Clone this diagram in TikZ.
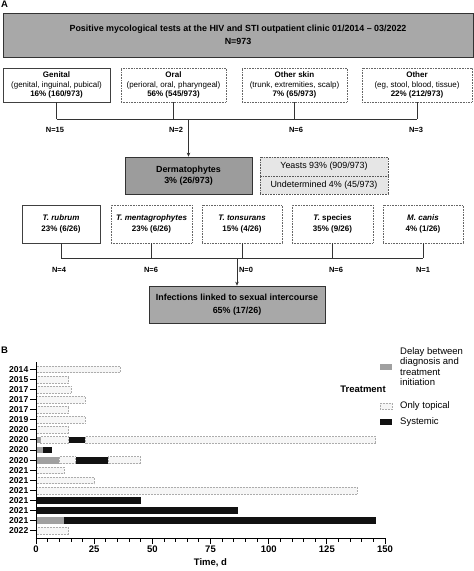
\documentclass[tikz,border=0pt]{standalone}
\usepackage{fontspec}
\setmainfont{Liberation Sans}
\usetikzlibrary{arrows.meta}
\definecolor{boxgray}{HTML}{A8A8A8}
\definecolor{dermgray}{HTML}{9C9C9C}
\definecolor{lightbox}{HTML}{E6E6E6}
\definecolor{delaygray}{HTML}{A0A0A0}
\definecolor{sysblack}{HTML}{111111}
\newcommand\fsA{\fontsize{8.9}{10.5}\selectfont}
\newcommand\fsB{\fontsize{8.0}{9.6}\selectfont}
\newcommand\fsN{\fontsize{7.5}{9}\selectfont}
\newcommand\fsC{\fontsize{8.6}{10}\selectfont}
\newcommand\fsD{\fontsize{9.5}{10.3}\selectfont}
\newcommand\yr[1]{369.3+10.09*#1}
\newcommand\barseg[4]{\path[#1] ({36+2.327*#2},{369.3+10.09*#4-3.4}) rectangle ({36+2.327*#3},{369.3+10.09*#4+3.4});}
\begin{document}
\begin{tikzpicture}[x=1pt,y=-1pt,
  bigbox/.style={draw=black!80, line width=0.7pt, fill=boxgray, align=center, inner sep=1pt, font=\fsA},
  solidbox/.style={draw=black!75, line width=0.6pt, fill=white, align=center, inner sep=1pt, font=\fsB},
  dotbox/.style={draw=black!60, line width=0.6pt, densely dotted, fill=white, align=center, inner sep=1pt, font=\fsB},
  lightdot/.style={draw=black!65, line width=0.6pt, densely dotted, fill=lightbox, align=center, inner sep=1pt, font=\fsA},
  conn/.style={draw=black!80, line width=0.7pt},
  arr/.style={conn, -{Stealth[length=4pt,width=3.5pt]}},
  nlab/.style={font=\fsN\bfseries, inner sep=0pt},
  topical/.style={fill=gray!7, draw=gray!65, densely dotted, line width=0.5pt},
  delay/.style={fill=delaygray},
  systemic/.style={fill=sysblack},
  ylab/.style={font=\fsC\bfseries, anchor=east, inner sep=0pt},
  leg/.style={font=\fsD, anchor=west, inner sep=0pt, align=left}
]
\useasboundingbox[fill=white] (0,0) rectangle (474,571);

% ---------- Panel A ----------
\node[font=\fontsize{9.5}{10}\selectfont\bfseries, anchor=north west, inner sep=0pt] (labA) at (1,1) {A};

\node[bigbox, minimum width=470pt, minimum height=44pt] (top) at (238,35)
  {\textbf{Positive mycological tests at the HIV and STI outpatient clinic 01/2014 – 03/2022}\\[2pt]\textbf{N=973}};

\node[solidbox, minimum width=107pt, minimum height=34pt] (b1) at (56.5,85)
  {\textbf{Genital}\\(genital, inguinal, pubical)\\\textbf{16\% (160/973)}};
\node[dotbox, minimum width=105pt, minimum height=34pt] (b2) at (173.5,85)
  {\textbf{Oral}\\(perioral, oral, pharyngeal)\\\textbf{56\% (545/973)}};
\node[dotbox, minimum width=105pt, minimum height=34pt] (b3) at (294.5,85)
  {\textbf{Other skin}\\(trunk, extremities, scalp)\\\textbf{7\% (65/973)}};
\node[dotbox, minimum width=110pt, minimum height=34pt] (b4) at (417,85)
  {\textbf{Other}\\(eg, stool, blood, tissue)\\\textbf{22\% (212/973)}};

\coordinate (h1) at (56,119);
\coordinate (h4) at (417,119);
\coordinate (hd) at (188.5,119);
\draw[conn] (b1.south) -- (b1.south |- h1);
\draw[conn] (b2.south) -- (b2.south |- h1);
\draw[conn] (b3.south) -- (b3.south |- h1);
\draw[conn] (b4.south) -- (b4.south |- h1);
\draw[conn] (b1.south |- h1) -- (b4.south |- h4);

\node[nlab] (n1) at (55,130) {N=15};
\node[nlab] (n2) at (176,130) {N=2};
\node[nlab] (n3) at (296,130) {N=6};
\node[nlab] (n4) at (416,130) {N=3};

\node[bigbox, fill=dermgray, minimum width=127pt, minimum height=37pt] (derm) at (188.5,175.5)
  {\textbf{Dermatophytes}\\[1pt]\textbf{3\% (26/973)}};
\draw[arr] (hd) -- (derm.north);

\node[lightdot, minimum width=128pt, minimum height=19pt] (yeast) at (324,166.5) {Yeasts 93\% (909/973)};
\node[lightdot, minimum width=128pt, minimum height=18pt] (undet) at (324,185) {Undetermined 4\% (45/973)};

\node[solidbox, minimum width=78pt, minimum height=38pt] (c1) at (61,224)
  {\textbf{\textit{T. rubrum}}\\[2pt]\textbf{23\% (6/26)}};
\node[dotbox, minimum width=81pt, minimum height=38pt] (c2) at (151.5,224)
  {\textbf{\textit{T. mentagrophytes}}\\[2pt]\textbf{23\% (6/26)}};
\node[dotbox, minimum width=80pt, minimum height=38pt] (c3) at (242,224)
  {\textbf{\textit{T. tonsurans}}\\[2pt]\textbf{15\% (4/26)}};
\node[dotbox, minimum width=81pt, minimum height=38pt] (c4) at (332.5,224)
  {\textbf{\textit{T.} species}\\[2pt]\textbf{35\% (9/26)}};
\node[dotbox, minimum width=80pt, minimum height=38pt] (c5) at (423,224)
  {\textbf{\textit{M. canis}}\\[2pt]\textbf{4\% (1/26)}};

\coordinate (g1) at (61,258);
\coordinate (g5) at (423,258);
\coordinate (gi) at (237,258);
\foreach \c in {c1,c2,c3,c4,c5}{\draw[conn] (\c.south) -- (\c.south |- g1);}
\draw[conn] (g1) -- (g5);

\node[nlab] (m1) at (59,270) {N=4};
\node[nlab] (m2) at (151,270) {N=6};
\node[nlab] (m3) at (246,270) {N=0};
\node[nlab] (m4) at (336,270) {N=6};
\node[nlab] (m5) at (423,270) {N=1};

\node[bigbox, minimum width=176pt, minimum height=37pt] (inf) at (237,304.5)
  {\textbf{Infections linked to sexual intercourse}\\[2pt]\textbf{65\% (17/26)}};
\draw[arr] (gi) -- (inf.north);

% ---------- Panel B ----------
\node[font=\fontsize{9.5}{10}\selectfont\bfseries, anchor=west, inner sep=0pt] (labB) at (1,350) {B};

% bars
\barseg{topical}{0}{36}{0}
\barseg{topical}{0}{14}{1}
\barseg{topical}{0}{15}{2}
\barseg{topical}{0}{21}{3}
\barseg{topical}{0}{14}{4}
\barseg{topical}{0}{21}{5}
\barseg{topical}{0}{14}{6}
\barseg{delay}{0}{2}{7}
\barseg{topical}{2}{14}{7}
\barseg{systemic}{14}{21}{7}
\barseg{topical}{21}{146}{7}
\barseg{delay}{0}{3}{8}
\barseg{systemic}{3}{7}{8}
\barseg{delay}{0}{10}{9}
\barseg{topical}{10}{17}{9}
\barseg{systemic}{17}{31}{9}
\barseg{topical}{31}{45}{9}
\barseg{topical}{0}{12}{10}
\barseg{topical}{0}{25}{11}
\barseg{topical}{0}{138}{12}
\barseg{systemic}{0}{45}{13}
\barseg{systemic}{0}{87}{14}
\barseg{delay}{0}{12}{15}
\barseg{systemic}{12}{146}{15}
\barseg{topical}{0}{14}{16}

% axes
\draw[line width=1pt] (36,362) -- (36,538.5);
\draw[line width=1pt] (35.5,538) -- (385.5,538);
\foreach \lab [count=\i from 0] in {2014,2015,2017,2017,2017,2019,2020,2020,2020,2020,2021,2021,2021,2021,2021,2021,2022}{
  \draw[line width=0.9pt] (30,{\yr{\i}}) -- (36,{\yr{\i}});
  \node[ylab] at (28.5,{\yr{\i}}) {\lab};
}
\foreach \t in {0,5,...,150}{\draw[line width=0.8pt] ({36+2.327*\t},538) -- ({36+2.327*\t},541.5);}
\foreach \t in {0,25,...,150}{
  \draw[line width=0.9pt] ({36+2.327*\t},538) -- ({36+2.327*\t},543.5);
  \node[font=\fsD\bfseries, inner sep=0pt] at ({36+2.327*\t},549.5) {\t};
}
\node[font=\fsD\bfseries, inner sep=0pt] (xlab) at (210.5,563) {Time, d};

% legend
\node[font=\fsD\bfseries, inner sep=0pt] (legT) at (363,389) {Treatment};
\path[delay] (380,364) rectangle (392,370);
\node[leg, anchor=north west] (leg1) at (400,347.5) {Delay between\\diagnosis and\\treatment\\initiation};
\path[topical] (380,403) rectangle (392,409);
\node[leg] (leg2) at (400,406) {Only topical};
\path[systemic] (380,419) rectangle (392,425);
\node[leg] (leg3) at (400,422) {Systemic};
\end{tikzpicture}
\end{document}
